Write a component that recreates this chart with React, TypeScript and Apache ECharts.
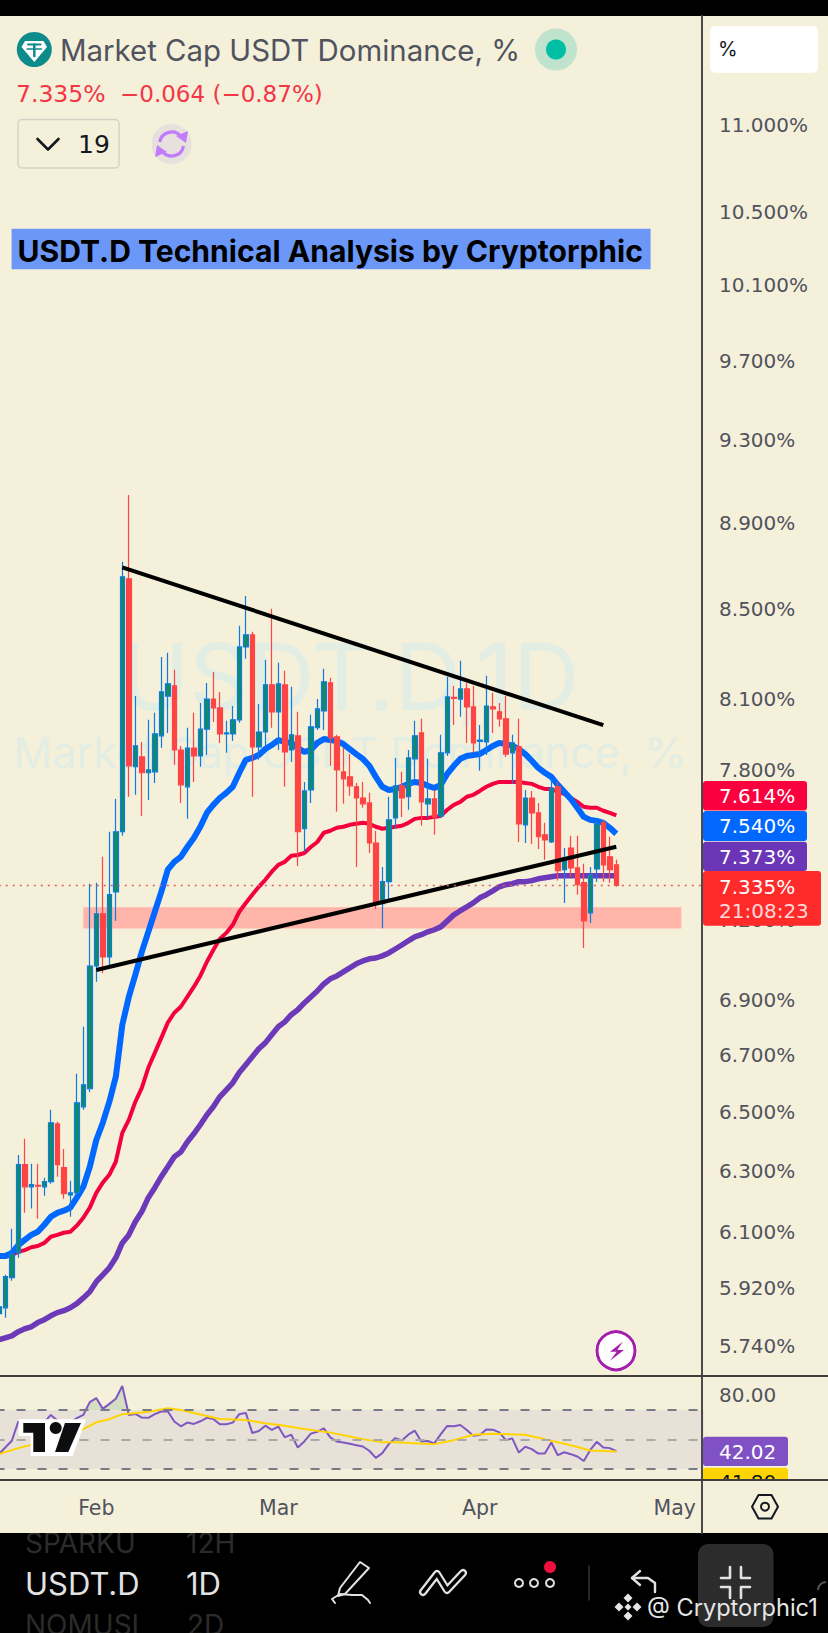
import React, { useEffect, useRef } from "react";
import * as echarts from "echarts";

const monthNames = ["Jan", "Feb", "Mar", "Apr", "May"];
const monthLengths = [31, 28, 31, 30, 31];
const firstDay = 17;
const dayCount = 109;

const opens = [5.839,5.857,5.952,6.031,6.321,6.247,6.252,6.247,6.264,6.460,6.311,6.220,6.227,6.519,6.582,7.027,7.225,7.061,7.310,7.548,8.637,7.814,7.855,7.789,7.793,7.944,8.114,8.158,7.884,7.731,7.892,7.859,7.972,8.101,8.063,7.952,7.952,8.012,8.329,8.383,7.897,7.960,8.163,8.046,8.163,7.884,7.944,7.560,7.718,7.978,8.050,8.171,7.939,7.793,7.772,7.731,7.685,7.665,7.503,7.264,7.350,7.604,7.735,7.690,7.847,7.956,7.661,7.681,7.612,7.872,8.108,8.101,8.145,8.067,7.920,7.918,8.067,8.046,8.016,7.872,7.897,7.576,7.685,7.624,7.536,7.507,7.731,7.397,7.483,7.404,7.346,7.229,7.400,7.584,7.448,7.416];
const closes = [5.860,5.955,6.027,6.321,6.247,6.254,6.249,6.264,6.464,6.321,6.224,6.227,6.533,6.596,7.027,7.225,7.061,7.299,7.548,8.646,7.818,7.901,7.789,7.801,7.952,8.132,8.167,7.884,7.739,7.892,7.859,7.972,8.101,8.063,7.952,7.956,8.012,8.329,8.383,7.897,7.960,8.163,8.046,8.167,7.876,7.948,7.548,7.714,7.982,8.059,8.176,7.935,7.801,7.764,7.735,7.685,7.661,7.503,7.267,7.350,7.596,7.735,7.685,7.851,7.944,7.669,7.681,7.608,7.872,8.110,8.104,8.145,8.067,7.914,7.926,8.071,8.059,8.016,7.867,7.914,7.580,7.685,7.624,7.528,7.515,7.726,7.393,7.444,7.404,7.338,7.198,7.377,7.580,7.416,7.397,7.335];
const lows = [5.826,5.826,5.942,6.015,6.161,6.175,6.142,6.217,6.257,6.281,6.207,6.148,6.220,6.509,6.571,6.968,7.001,7.020,7.198,7.532,7.690,7.698,7.612,7.677,7.747,7.893,7.956,7.822,7.665,7.600,7.751,7.814,7.863,8.003,7.914,7.872,7.922,7.999,8.277,7.690,7.843,7.897,7.978,7.884,7.731,7.834,7.412,7.467,7.665,7.969,7.969,7.818,7.629,7.661,7.694,7.408,7.645,7.463,7.244,7.170,7.275,7.560,7.608,7.637,7.764,7.572,7.604,7.536,7.604,7.859,7.990,8.025,7.914,7.872,7.797,7.863,7.956,7.982,7.855,7.743,7.507,7.503,7.499,7.479,7.436,7.503,7.354,7.267,7.369,7.299,7.095,7.190,7.350,7.350,7.346,7.330];
const highs = [5.866,5.961,6.109,6.354,6.409,6.324,6.324,6.277,6.509,6.467,6.374,6.267,6.635,6.803,7.342,7.346,7.448,7.548,7.681,8.716,9.032,8.114,7.918,8.012,8.042,8.285,8.303,8.228,7.901,7.978,8.042,8.084,8.171,8.219,8.132,8.008,8.071,8.424,8.558,8.397,8.080,8.272,8.500,8.259,8.224,8.154,8.046,7.751,8.033,8.101,8.233,8.193,7.948,7.892,7.867,7.747,7.751,7.706,7.552,7.408,7.690,7.851,7.793,7.884,8.008,8.016,7.847,7.718,7.948,8.198,8.158,8.268,8.171,8.158,7.990,8.202,8.128,8.084,8.114,7.948,8.016,7.718,7.714,7.665,7.584,7.764,7.751,7.483,7.532,7.532,7.420,7.408,7.596,7.596,7.528,7.436];

const emaBlue = [6.021,6.021,6.031,6.056,6.073,6.089,6.099,6.122,6.148,6.161,6.168,6.178,6.211,6.247,6.314,6.405,6.464,6.536,6.624,6.810,6.912,6.994,7.080,7.156,7.233,7.310,7.397,7.428,7.448,7.487,7.523,7.568,7.624,7.657,7.685,7.706,7.731,7.789,7.843,7.851,7.863,7.888,7.905,7.926,7.918,7.914,7.892,7.876,7.884,7.914,7.930,7.926,7.922,7.909,7.888,7.867,7.847,7.818,7.772,7.731,7.718,7.722,7.731,7.743,7.751,7.747,7.735,7.726,7.739,7.785,7.818,7.847,7.859,7.863,7.867,7.884,7.901,7.914,7.909,7.901,7.888,7.867,7.839,7.809,7.789,7.772,7.739,7.710,7.681,7.645,7.608,7.596,7.592,7.584,7.564,7.540];
const emaRed = [6.024,6.018,6.024,6.034,6.040,6.049,6.053,6.063,6.083,6.089,6.096,6.099,6.119,6.145,6.178,6.227,6.261,6.287,6.331,6.429,6.474,6.536,6.585,6.656,6.709,6.763,6.818,6.854,6.876,6.912,6.949,6.990,7.042,7.087,7.129,7.152,7.183,7.233,7.267,7.299,7.330,7.357,7.389,7.416,7.428,7.452,7.455,7.463,7.487,7.507,7.544,7.552,7.564,7.568,7.576,7.580,7.584,7.580,7.568,7.560,7.564,7.568,7.572,7.584,7.600,7.604,7.604,7.608,7.612,7.637,7.657,7.669,7.690,7.698,7.714,7.731,7.743,7.751,7.751,7.751,7.751,7.747,7.743,7.731,7.722,7.722,7.710,7.702,7.685,7.669,7.649,7.645,7.645,7.633,7.624,7.614];
const emaPurple = [5.758,5.764,5.770,5.783,5.792,5.798,5.811,5.820,5.832,5.842,5.848,5.857,5.870,5.888,5.907,5.939,5.961,5.983,6.015,6.063,6.089,6.132,6.165,6.211,6.244,6.281,6.314,6.348,6.364,6.398,6.426,6.457,6.491,6.519,6.554,6.578,6.603,6.639,6.667,6.695,6.724,6.745,6.774,6.803,6.821,6.847,6.865,6.890,6.912,6.934,6.960,6.979,6.990,7.005,7.020,7.035,7.046,7.054,7.057,7.065,7.076,7.091,7.106,7.122,7.137,7.145,7.156,7.164,7.175,7.198,7.221,7.237,7.252,7.267,7.287,7.299,7.314,7.330,7.338,7.342,7.350,7.350,7.354,7.361,7.365,7.369,7.373,7.373,7.373,7.373,7.373,7.373,7.373,7.373,7.373,7.373];

const rsiValues = [40.0,44.5,49.1,62.1,59.3,60.5,60.5,61.6,66.6,62.8,61.6,61.6,64.4,66.6,75.3,78.0,70.7,74.1,77.6,86.2,66.6,67.3,64.8,64.6,67.1,68.9,69.1,62.1,58.9,61.4,60.5,62.3,64.6,63.9,60.3,60.3,61.4,67.1,68.0,54.3,55.7,59.3,56.4,58.7,51.4,53.2,44.5,48.6,53.9,55.2,57.5,51.4,48.6,47.9,47.0,46.1,45.2,42.3,37.5,40.7,46.8,50.9,49.3,53.2,55.9,48.6,48.9,47.3,53.6,59.1,58.9,59.8,56.4,52.5,53.0,56.8,56.6,54.8,49.5,50.7,41.1,45.0,43.4,40.4,40.4,47.9,39.3,41.3,40.0,38.4,35.4,42.9,48.4,44.5,44.1,42.02];
const rsiSmaPoints: [number, number][] = [[0,40],[3,44.1],[5,46.4],[8,50.7],[10,53],[12,54.8],[13,57],[15,61.6],[17,63.7],[19,67.1],[22,68.2],[24,69.4],[26,71.2],[28,70],[31,66.9],[34,63.9],[38,63.2],[41,60.9],[44,59.3],[47,57.1],[51,54.6],[54,52],[56,50.2],[59,48],[61,48],[67,46.8],[70,49.5],[73,53.2],[76,53.9],[81,53.2],[85,49.1],[88,46.1],[91,42.5],[95,41.8]];

const priceTicks = [11, 10.5, 10.1, 9.7, 9.3, 8.9, 8.5, 8.1, 7.8, 7.2, 6.9, 6.7, 6.5, 6.3, 6.1, 5.92, 5.74];
const rsiTicks = [80];
const lastPrice = 7.335;
const upperTrend: [number, number][] = [[19, 8.69], [93, 7.989]];
const lowerTrend: [number, number][] = [[15, 7.012], [95, 7.488]];
const supportZone = { from: 13, to: 105, top: 7.25, bottom: 7.169 };

const BG = "#f5f0da";
const FONT = "Inter, Roboto, sans-serif";
const WIDE = "'DejaVu Sans', Inter, sans-serif";

function makeDates(): string[] {
  const out: string[] = [];
  let m = 0;
  let d = firstDay;
  for (let i = 0; i < dayCount; i++) {
    out.push(monthNames[m] + " " + d);
    d += 1;
    if (d > monthLengths[m]) {
      d = 1;
      m += 1;
    }
  }
  return out;
}

const txt = (text: string, x: number, y: number, size: number, fill: string, z = 100, weight = "400", align = "left", family = FONT) => ({
  type: "text",
  x,
  y,
  z,
  silent: true,
  style: { text, fill, align, verticalAlign: "middle", font: `${weight} ${size}px ${family}` },
});
const tag = (text: string, x: number, y: number, fill = "#ffffff") => txt(text, x, y, 20, fill, 9, "400", "left", WIDE);
const rect = (x: number, y: number, width: number, height: number, fill: string, z = 100, r = 0, stroke?: string) => ({
  type: "rect",
  z,
  silent: true,
  shape: { x, y, width, height, r },
  style: { fill, stroke, lineWidth: stroke ? 1.5 : 0 },
});
const line = (pts: number[][], stroke: string, lineWidth: number, z = 100) => ({
  type: "polyline",
  z,
  silent: true,
  shape: { points: pts },
  style: { stroke, lineWidth, fill: "none", lineJoin: "round", lineCap: "round" },
});
const poly = (pts: number[][], fill: string, z = 100, stroke?: string, lineWidth = 0) => ({
  type: "polygon",
  z,
  silent: true,
  shape: { points: pts },
  style: { fill, stroke, lineWidth, lineJoin: "round" },
});
const circle = (cx: number, cy: number, r: number, fill: string, z = 100, stroke?: string, lineWidth = 0) => ({
  type: "circle",
  z,
  silent: true,
  shape: { cx, cy, r },
  style: { fill, stroke, lineWidth },
});
const arc = (cx: number, cy: number, r: number, a: number, b: number, stroke: string, lineWidth: number, z = 100) => ({
  type: "arc",
  z,
  silent: true,
  shape: { cx, cy, r, startAngle: a, endAngle: b, clockwise: true },
  style: { stroke, lineWidth, fill: "none" },
});
const diamond = (cx: number, cy: number, r: number, fill: string, z = 100) =>
  poly([[cx, cy - r], [cx + r, cy], [cx, cy + r], [cx - r, cy]], fill, z);

function buildGraphics() {
  const grey = "#50535e";
  const els: any[] = [
    // watermark
    txt("USDT.D,1D", 350, 676, 92, "#e2ede3", 1, "400", "center"),
    txt("Market Cap USDT Dominance, %", 350, 752, 43, "#e2ede3", 1, "400", "center"),

    // header
    circle(34.3, 49.5, 17.5, "#0e8c8c"),
    poly([[25, 41], [43.5, 41], [47, 47], [34.3, 62], [21.5, 47]], "#ffffff", 101),
    line([[28, 44.5], [40.5, 44.5]], "#0e8c8c", 2, 102),
    line([[34.3, 44.5], [34.3, 56]], "#0e8c8c", 2.5, 102),
    line([[27, 49], [41.5, 49]], "#0e8c8c", 1.5, 102),
    txt("Market Cap USDT Dominance, %", 60, 50, 29.4, grey),
    circle(556, 49.5, 21, "#bfe3cd"),
    circle(556, 49.5, 10, "#00bfa5", 101),
    txt("7.335%", 16, 94, 23.5, "#f23645", 100, "400", "left", WIDE),
    txt("\u22120.064 (\u22120.87%)", 120, 94, 23, "#f23645", 100, "400", "left", WIDE),
    rect(18, 119.5, 101, 48.5, "rgba(0,0,0,0)", 100, 4, "#d4d2c6"),
    line([[37.5, 139], [48, 149.5], [58.5, 139]], "#131722", 2.6),
    txt("19", 78, 144, 25, "#131722", 100, "400", "left", WIDE),
    circle(171.6, 144, 20, "#e6e1dc"),
    arc(171.6, 144, 12, Math.PI * 1.05, Math.PI * 1.8, "#c07cfa", 3.2),
    arc(171.6, 144, 12, Math.PI * 0.05, Math.PI * 0.8, "#c07cfa", 3.2),
    poly([[188, 131], [186, 143], [176, 136]], "#c07cfa"),
    poly([[155, 157], [157, 145], [167, 152]], "#c07cfa"),

    // banner
    rect(11.6, 228.7, 639, 40.6, "#6b98f8"),
    txt("USDT.D Technical Analysis by Cryptorphic", 17.5, 250.5, 30.1, "#000000", 101, "700"),

    // last value tags
    rect(703, 781, 104, 29.5, "#fb003e", 9, 3),
    tag("7.614%", 719, 796),
    rect(703, 811, 104, 30, "#0068ff", 9, 3),
    tag("7.540%", 719, 826),
    rect(703, 841.7, 104, 29.3, "#6b35b8", 9, 3),
    tag("7.373%", 719, 856.5),
    rect(703, 871, 118, 54.7, "#ff2a2a", 9, 3),
    tag("7.335%", 719, 887),
    tag("21:08:23", 719, 911, "#ffd9d9"),
    rect(703, 1436.7, 85, 29.3, "#7f51c4", 9, 3),
    tag("42.02", 719, 1451.5),
    rect(703, 1467.7, 85, 20, "#ffd400", 9, 3),
    tag("41.80", 719, 1482, "#131722"),

    // % box
    rect(710, 26, 108, 46.7, "#ffffff", 100, 5),
    txt("%", 718, 49, 20, "#131722", 101),

    // lightning badge
    circle(616, 1350.7, 21, "#ffffff", 100),
    circle(616, 1350.7, 19, "none", 101, "#a31ea9", 3),
    poly([[622.7, 1341.7], [610, 1351.7], [616.7, 1351.7], [610, 1360.7], [624, 1350], [617.3, 1350]], "#a31ea9", 101),

    // TradingView logo
    poly([[18.7, 1419.3], [86, 1419.3], [72.7, 1456], [30.7, 1456], [30.7, 1436], [18.7, 1436]], "#ffffff", 50),
    poly([[23.3, 1423], [45, 1423], [45, 1452], [33.3, 1452], [33.3, 1432.7], [23.3, 1432.7]], "#0e0e10", 51),
    poly([[65, 1423], [81, 1423], [68.3, 1452], [55, 1452]], "#0e0e10", 51),
    circle(55.7, 1428, 6, "#0e0e10", 51),

    // black bars and pane frames
    rect(0, 0, 828, 16, "#000000", 10),
    rect(0, 1533, 828, 100, "#000000", 10),
    rect(0, 1481, 828, 52, BG, 12),
    line([[702, 16], [702, 1533]], "#4a4a4a", 2, 30),
    line([[0, 1376], [828, 1376]], "#3f3f3f", 2, 30),
    line([[0, 1480], [828, 1480]], "#3f3f3f", 2, 30),

    // settings hexagon
    poly([[752, 1506.7], [758.5, 1495], [771.5, 1495], [778, 1506.7], [771.5, 1518.5], [758.5, 1518.5]], "none", 31, "#131722", 2),
    circle(765, 1506.7, 4, "none", 31, "#131722", 2),

    // bottom toolbar
    txt("SPARKU", 25, 1543, 28, "#2b2b2b", 11),
    txt("12H", 186, 1543, 28, "#2b2b2b", 11),
    txt("USDT.D", 25, 1583, 31, "#e2e2e2", 20),
    txt("1D", 186, 1583, 31, "#e2e2e2", 20),
    txt("NOMUSI", 25, 1625, 28, "#2b2b2b", 11),
    txt("2D", 187, 1625, 28, "#2b2b2b", 11),
    poly([[360, 1562], [369, 1568], [345, 1594], [338, 1596], [340, 1588]], "#000000", 20, "#e2e2e2", 2),
    line([[335, 1603], [332, 1599], [340, 1594], [352, 1595], [362, 1595], [368, 1600], [370, 1603]], "#e2e2e2", 2, 20),
    line([[423, 1592], [437, 1574], [447, 1590], [463, 1573]], "#e2e2e2", 8, 20),
    line([[423, 1592], [437, 1574], [447, 1590], [463, 1573]], "#000000", 3.5, 21),
    circle(519, 1583, 4, "none", 20, "#e2e2e2", 2),
    circle(534, 1583, 4, "none", 20, "#e2e2e2", 2),
    circle(550, 1583, 4, "none", 20, "#e2e2e2", 2),
    circle(550, 1567, 6, "#f01040", 20),
    line([[589, 1566], [589, 1600]], "#333333", 1.5, 20),
    line([[655, 1592], [655, 1583], [648, 1578], [632, 1578]], "#e2e2e2", 2.4, 20),
    line([[640, 1571], [632, 1578], [640, 1585]], "#e2e2e2", 2.4, 20),
    rect(698, 1544, 75.5, 83, "#2c2c2c", 19, 10),
    line([[721, 1578], [730, 1578], [730, 1567]], "#e2e2e2", 2.6, 20),
    line([[750, 1578], [741, 1578], [741, 1567]], "#e2e2e2", 2.6, 20),
    line([[721, 1587], [730, 1587], [730, 1598]], "#e2e2e2", 2.6, 20),
    line([[750, 1587], [741, 1587], [741, 1598]], "#e2e2e2", 2.6, 20),
    diamond(628, 1598, 4.5, "#e6e6e6", 22),
    diamond(628, 1616, 4.5, "#e6e6e6", 22),
    diamond(619, 1607, 4.5, "#e6e6e6", 22),
    diamond(637, 1607, 4.5, "#e6e6e6", 22),
    diamond(628, 1607, 3.5, "#e6e6e6", 22),
    txt("@ Cryptorphic1", 647, 1607, 23.6, "#e6e6e6", 22),
    arc(826, 1590, 8, Math.PI, Math.PI * 1.5, "#555555", 2, 20),
  ];
  return els;
}

export default function App() {
  const ref = useRef<HTMLDivElement | null>(null);
  useEffect(() => {
    document.body.style.margin = "0";
    document.body.style.background = BG;
    const chart = echarts.init(ref.current!, undefined, { renderer: "svg" });
    const categories = makeDates();
    const ohlc = opens.map((o, i) => [o, closes[i], lows[i], highs[i]]);
    const price = categories.map(() => lastPrice);
    const overBase = rsiValues.map((v, i) => (i >= 13 && i <= 20 ? 70 : null));
    const overDiff = rsiValues.map((v, i) => (i >= 13 && i <= 20 ? Math.max(0, v - 70) : null));
    const noSym = { symbol: "none", silent: true };

    chart.setOption({
      animation: false,
      backgroundColor: BG,
      textStyle: { fontFamily: FONT },
      grid: [
        { left: -4.45, width: 708.5, top: 17, height: 1359, outerBoundsMode: "none" },
        { left: -4.45, width: 708.5, top: 1377, height: 103, outerBoundsMode: "none" },
      ],
      xAxis: [
        { type: "category", gridIndex: 0, data: categories, show: false, boundaryGap: true },
        {
          type: "category",
          gridIndex: 1,
          data: categories,
          boundaryGap: true,
          z: 20,
          axisLine: { show: false },
          axisTick: { show: false },
          axisLabel: {
            margin: 17,
            fontSize: 20.5,
            fontFamily: WIDE,
            color: "#50535e",
            hideOverlap: false,
            interval: (_i: number, v: string) => v.endsWith(" 1"),
            formatter: (v: string) => v.split(" ")[0],
          },
        },
      ],
      yAxis: [
        {
          type: "log",
          logBase: Math.E,
          gridIndex: 0,
          position: "right",
          offset: -2,
          min: 5.648,
          max: 11.651,
          splitLine: { show: false },
          axisLine: { show: false },
          axisTick: { show: false },
          axisLabel: {
            customValues: priceTicks,
            margin: 17,
            fontSize: 20,
            fontFamily: WIDE,
            color: "#50535e",
            formatter: (v: number) => Number(v).toFixed(3) + "%",
          },
        },
        {
          type: "value",
          gridIndex: 1,
          position: "right",
          offset: -2,
          min: 22.5,
          max: 92.3,
          splitLine: { show: false },
          axisLine: { show: false },
          axisTick: { show: false },
          axisLabel: {
            customValues: rsiTicks,
            margin: 17,
            fontSize: 20,
            fontFamily: WIDE,
            color: "#50535e",
            formatter: (v: number) => Number(v).toFixed(2),
          },
        },
      ],
      series: [
        {
          name: "Zone",
          type: "line",
          xAxisIndex: 0,
          yAxisIndex: 0,
          data: [],
          z: 1,
          ...noSym,
          markArea: {
            silent: true,
            itemStyle: { color: "#ffb5a9" },
            data: [[
              { xAxis: categories[supportZone.from], yAxis: supportZone.top },
              { xAxis: categories[supportZone.to], yAxis: supportZone.bottom },
            ]],
          },
        },
        { name: "EMA slow", type: "line", data: emaPurple, z: 2, ...noSym, lineStyle: { color: "#6c3ab8", width: 5.5 } },
        { name: "EMA mid", type: "line", data: emaRed, z: 2, ...noSym, lineStyle: { color: "#f5003f", width: 4 } },
        { name: "EMA fast", type: "line", data: emaBlue, z: 2, ...noSym, lineStyle: { color: "#0068ff", width: 6 } },
        {
          name: "USDT.D",
          type: "candlestick",
          data: ohlc,
          barWidth: 5,
          z: 3,
          silent: true,
          itemStyle: {
            color: "#0f8a6a",
            color0: "#ff4444",
            borderColor: "#0d7be0",
            borderColor0: "#ff4444",
            borderWidth: 1.2,
          },
        },
        { name: "Upper trend", type: "line", data: upperTrend, z: 4, ...noSym, lineStyle: { color: "#000000", width: 4 } },
        { name: "Lower trend", type: "line", data: lowerTrend, z: 4, ...noSym, lineStyle: { color: "#000000", width: 4 } },
        { name: "Last price", type: "line", data: price, z: 4, ...noSym, lineStyle: { color: "#d9605c", width: 1.6, type: [2, 5] } },
        {
          name: "Bands",
          type: "line",
          xAxisIndex: 1,
          yAxisIndex: 1,
          data: [],
          z: 1,
          ...noSym,
          markArea: {
            silent: true,
            itemStyle: { color: "#e8e1d8" },
            data: [[{ yAxis: 70 }, { yAxis: 30 }]],
          },
          markLine: {
            silent: true,
            symbol: "none",
            label: { show: false },
            data: [
              { yAxis: 70, lineStyle: { color: "#787b86", type: [9, 12], width: 2 } },
              { yAxis: 50, lineStyle: { color: "#a8a8a4", type: [9, 12], width: 2 } },
              { yAxis: 30, lineStyle: { color: "#787b86", type: [9, 12], width: 2 } },
            ],
          },
        },
        { name: "OB base", type: "line", xAxisIndex: 1, yAxisIndex: 1, stack: "ob", data: overBase, z: 2, ...noSym, lineStyle: { width: 0 } },
        {
          name: "OB fill",
          type: "line",
          xAxisIndex: 1,
          yAxisIndex: 1,
          stack: "ob",
          data: overDiff,
          z: 2,
          ...noSym,
          lineStyle: { width: 0 },
          areaStyle: { color: "rgba(110,170,120,0.35)" },
        },
        { name: "RSI", type: "line", xAxisIndex: 1, yAxisIndex: 1, data: rsiValues, z: 3, ...noSym, lineStyle: { color: "#7e57c2", width: 2 } },
        { name: "RSI MA", type: "line", xAxisIndex: 1, yAxisIndex: 1, data: rsiSmaPoints, z: 4, ...noSym, lineStyle: { color: "#ffd400", width: 2 } },
      ],
      graphic: { elements: buildGraphics() },
    });
    return () => chart.dispose();
  }, []);
  return <div ref={ref} style={{ width: 828, height: 1633 }} />;
}
